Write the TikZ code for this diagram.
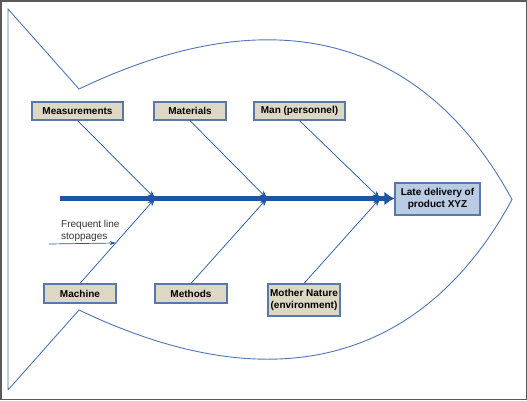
\documentclass[tikz,border=0pt]{standalone}
\usepackage{fontspec}
\setmainfont{Liberation Sans}
\usetikzlibrary{arrows.meta}
\usetikzlibrary{calc}
\usetikzlibrary{positioning}
\definecolor{fishline}{RGB}{79,118,184}
\definecolor{spineblue}{RGB}{30,84,164}
\definecolor{causefill}{RGB}{221,216,196}
\definecolor{causedraw}{RGB}{88,120,170}
\definecolor{effectfill}{RGB}{185,204,228}
\definecolor{framegray}{RGB}{90,90,90}
\tikzset{
  cause/.style={
    draw=causedraw, fill=causefill, line width=1.2pt,
    font=\bfseries\fontsize{10}{12}\selectfont,
    minimum height=18pt, inner sep=0, align=center
  },
  effect/.style={cause, fill=effectfill, minimum height=32pt},
  spine/.style={-{Latex[length=10pt,width=14pt]}, line width=5pt, draw=spineblue},
  bone/.style={-{Stealth[length=8pt,width=6pt]}, draw=spineblue, line width=0.7pt},
  outline/.style={draw=fishline, line width=0.9pt}
}

\begin{document}
\begin{tikzpicture}[x=1pt,y=-1pt]
  \useasboundingbox (0,0) rectangle (527,400);
  \draw[framegray, line width=1.5pt] (0.75,0.75) rectangle (526.25,399.25);

  % fish outline
  \coordinate (tailtop) at (8,9);
  \coordinate (tailbot) at (8,390);
  \coordinate (notchtop) at (79,89);
  \coordinate (notchbot) at (79,310);
  \coordinate (nose) at (512,199.5);
  \draw[outline] (tailbot) -- (tailtop) -- (notchtop)
    .. controls (309,-21) and (442,70) .. (nose)
    .. controls (442,329) and (309,420) .. (notchbot) -- (tailbot);

  % causes and effect
  \node[cause, minimum width=91pt] (meas) at (77.5,111) {Measurements};
  \node[cause, minimum width=72pt] (mat) at (190,111) {Materials};
  \node[cause, minimum width=91pt] (man) at (299.5,111) {Man (personnel)};
  \node[cause, minimum width=72pt, minimum height=19pt] (mach) at (80,293.5) {Machine};
  \node[cause, minimum width=72pt, minimum height=19pt] (meth) at (191,293.5) {Methods};
  \node[cause, minimum width=72pt, minimum height=32pt] (nat) at (304,300) {Mother Nature\\(environment)};
  \node[effect, minimum width=85pt] (late) at (437.5,199) {Late delivery of\\product XYZ};

  % spine
  \coordinate (tail) at (60,198.5);
  \coordinate (j1) at (155,198.5);
  \coordinate (j2) at (267,198.5);
  \coordinate (j3) at (380,198.5);
  \draw[spine] (tail) -- (late.west |- tail);

  % bones
  \draw[bone] (meas.south) -- (j1);
  \draw[bone] (mat.south) -- (j2);
  \draw[bone] (man.south) -- (j3);
  \draw[bone] (mach.north) -- (j1);
  \draw[bone] (meth.north) -- (j2);
  \draw[bone] (nat.north) -- (j3);

  % sub cause
  \node[anchor=north west, inner sep=0, align=left, text=black!80,
        font=\fontsize{10}{12}\selectfont] (stop) at (61,220) {Frequent line\\stoppages};
  \coordinate (stopin) at (49,244);
  \draw[-{Stealth[length=6pt,width=4pt]}, draw=spineblue, line width=0.7pt]
    (stopin) -- ($(mach.north)!0.476!(j1)$);
\end{tikzpicture}
\end{document}
